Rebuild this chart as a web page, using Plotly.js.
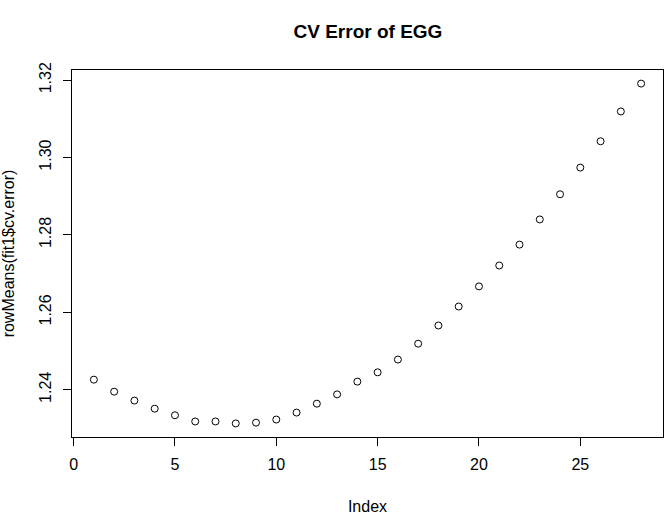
<!DOCTYPE html>
<html>
<head>
<meta charset="utf-8">
<script src="https://cdn.plot.ly/plotly-3.0.1.min.js"></script>
<style>
  html, body { margin: 0; padding: 0; background: #fff; }
  #grafico { width: 669px; height: 517px; }
</style>
</head>
<body>
<div id="grafico"></div>
<script>
// valores
const indices = [1, 2, 3, 4, 5, 6, 7, 8, 9, 10, 11, 12, 13, 14,
  15, 16, 17, 18, 19, 20, 21, 22, 23, 24, 25, 26, 27, 28];
const cvError = [1.2426, 1.2395, 1.2372, 1.2351, 1.2334, 1.2318, 1.2318, 1.2313,
  1.2315, 1.2323, 1.2341, 1.2364, 1.2388, 1.2421, 1.2445, 1.2478, 1.2519, 1.2566,
  1.2615, 1.2667, 1.2721, 1.2775, 1.2840, 1.2905, 1.2974, 1.3042, 1.3119, 1.3191];
const xTicks = [0, 5, 10, 15, 20, 25];
const yTicks = [1.24, 1.26, 1.28, 1.30, 1.32];

function criarGrafico() {
  const trace = {
    x: indices,
    y: cvError,
    type: 'scatter',
    mode: 'markers',
    marker: {
      symbol: 'circle-open',
      size: 7,
      color: '#000',
      line: { width: 1, color: '#000' }
    },
    hoverinfo: 'x+y'
  };

  // faixa com 4% de folga como no R
  const xmin = Math.min(...indices), xmax = Math.max(...indices);
  const ymin = Math.min(...cvError), ymax = Math.max(...cvError);
  const px = (xmax - xmin) * 0.04, py = (ymax - ymin) * 0.04;

  const layout = {
    title: {
      text: 'CV Error of EGG',
      font: { size: 19, family: 'Liberation Sans, Arial', weight: 700, color: '#000' },
      x: 0.55,
      xanchor: 'center',
      y: 0.94,
      yanchor: 'middle'
    },
    xaxis: {
      title: { text: 'Index', font: { size: 16 }, standoff: 28 },
      range: [xmin - px, xmax + px],
      tickvals: xTicks,
      ticks: 'outside',
      ticklen: 8,
      tickcolor: '#000',
      tickfont: { size: 16 },
      ticklabelstandoff: 5,
      showline: true,
      linecolor: '#000',
      linewidth: 1,
      mirror: true,
      showgrid: false,
      zeroline: false
    },
    yaxis: {
      title: { text: 'rowMeans(fit1$cv.error)', font: { size: 16 }, standoff: 18 },
      range: [ymin - py, ymax + py],
      tickvals: yTicks,
      ticktext: yTicks.map(v => v.toFixed(2)),
      tickangle: -90,
      ticks: 'outside',
      ticklen: 8,
      tickcolor: '#000',
      tickfont: { size: 16 },
      ticklabelstandoff: 6,
      showline: true,
      linecolor: '#000',
      linewidth: 1,
      mirror: true,
      showgrid: false,
      zeroline: false
    },
    font: { family: 'Liberation Sans, Arial', color: '#000' },
    margin: { t: 70, b: 80, l: 72, r: 6 },
    paper_bgcolor: '#fff',
    plot_bgcolor: '#fff',
    showlegend: false,
    width: 669,
    height: 517
  };

  Plotly.newPlot('grafico', [trace], layout, { displayModeBar: false, staticPlot: true });
}

criarGrafico();
</script>
</body>
</html>
